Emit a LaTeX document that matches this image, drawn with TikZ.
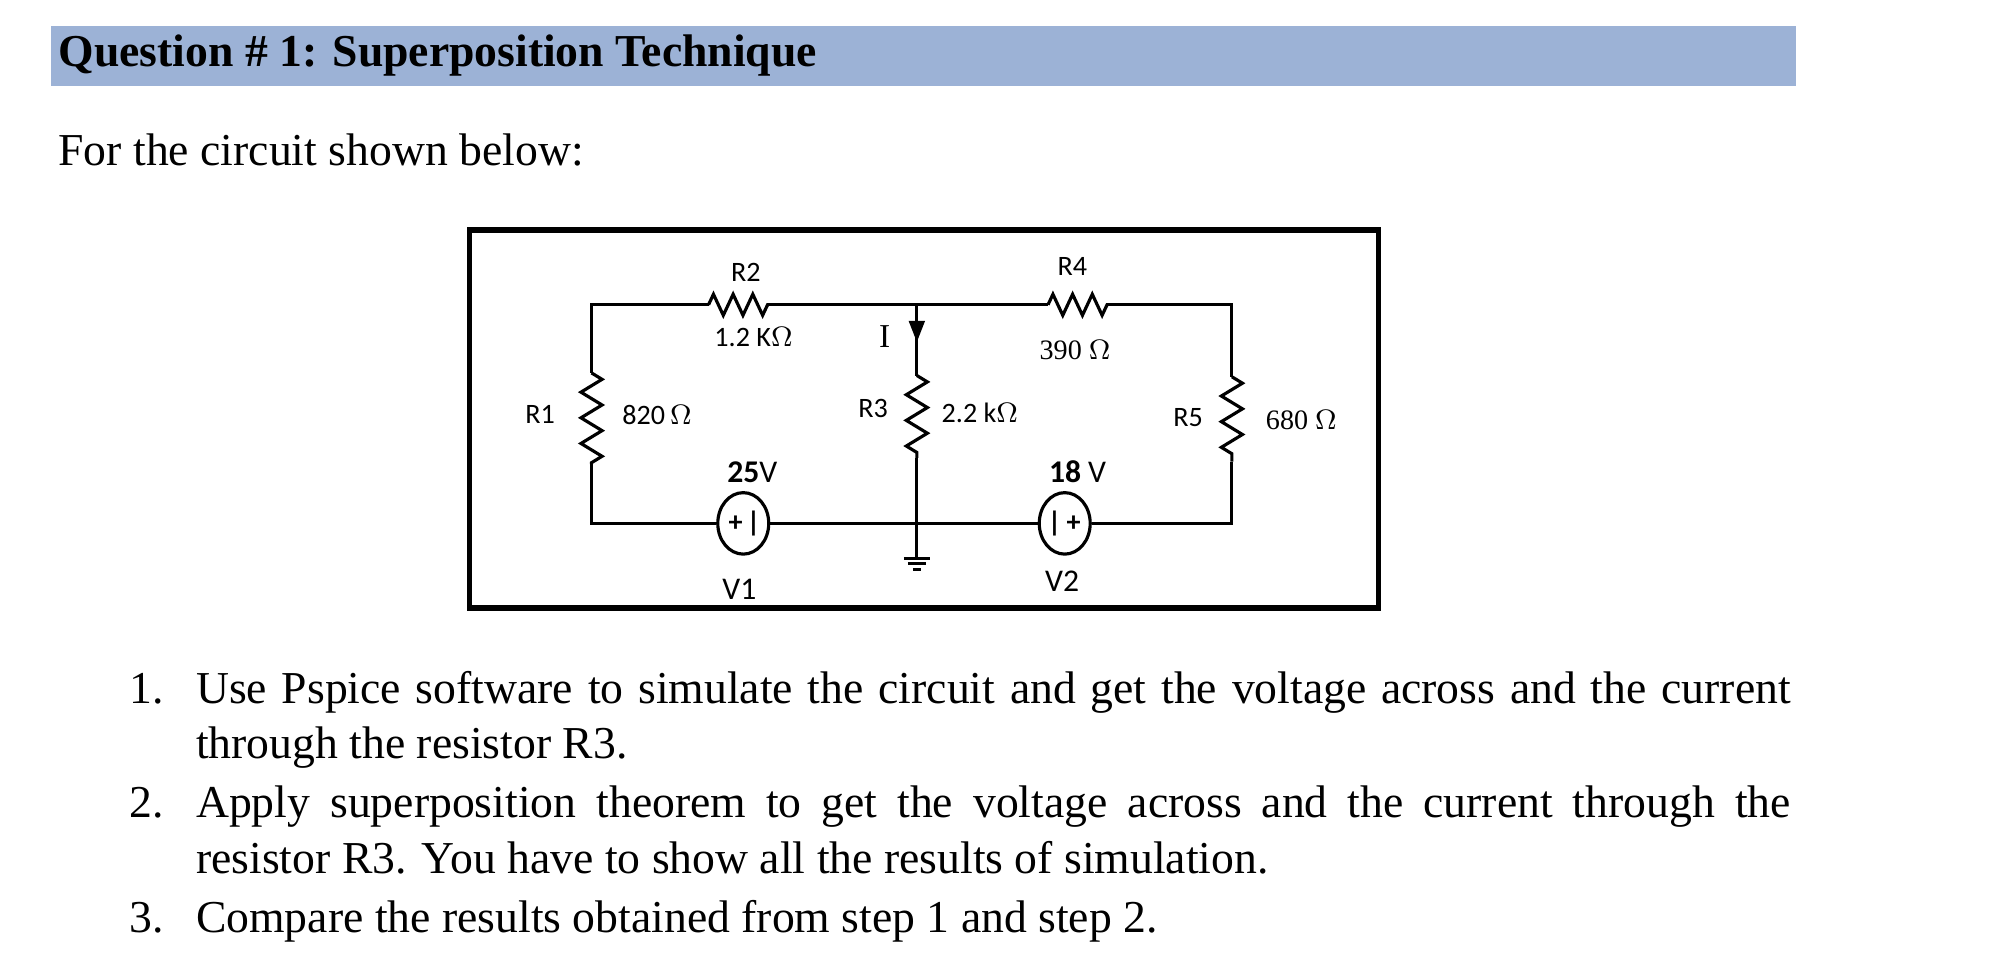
\documentclass[tikz,border=0pt]{standalone}
\usepackage{fontspec}
\setmainfont{Liberation Serif}
\newfontfamily\carl{Carlito}
\usetikzlibrary{decorations.pathmorphing,arrows.meta,shapes.geometric}
\begin{document}
\begin{tikzpicture}[x=0.01286cm,y=-0.01286cm,
  lbl/.style={font=\carl\fontsize{8}{9}\selectfont,inner sep=0pt},
  slbl/.style={font=\fontsize{8}{9}\selectfont,inner sep=0pt},
  wire/.style={line width=0.9pt},
  resh/.style={wire,decorate,decoration={zigzag,segment length=5.6pt,amplitude=3pt}},
  resv/.style={wire,decorate,decoration={zigzag,segment length=7.3pt,amplitude=3pt}},
  src/.style={draw,line width=0.9pt,ellipse,minimum width=14.5pt,minimum height=17.5pt,inner sep=0pt},
  sgn/.style={font=\carl\bfseries\fontsize{8}{9}\selectfont,inner sep=0pt},
  txt/.style={font=\fontsize{13}{15}\selectfont,inner sep=0pt,anchor=base west}]
\useasboundingbox (0,0) rectangle (1560,752.7);
\fill[fill={rgb,255:red,156;green,178;blue,214}] (40,20) rectangle (1397,67);
\node[txt,font=\bfseries\fontsize{13}{15}\selectfont] (title) at (45,52) {Question \# 1: Superposition Technique};
\node[txt] (intro) at (45,129) {For the circuit shown below:};
\draw[line width=1.6pt] (365,179) rectangle (1072,473);
\coordinate (tl) at (460,237); \coordinate (bl) at (460,407);
\coordinate (tm) at (713,237); \coordinate (bm) at (713,407);
\coordinate (tr) at (958,237); \coordinate (br) at (958,407);
\coordinate (r1a) at (460,290); \coordinate (r1b) at (460,361);
\coordinate (r2a) at (551,237); \coordinate (r2b) at (598,237);
\coordinate (r3a) at (713,292); \coordinate (r3b) at (713,356);
\coordinate (r4a) at (815,237); \coordinate (r4b) at (862,237);
\coordinate (r5a) at (958,293); \coordinate (r5b) at (958,359);
\coordinate (g) at (713,434);
\node[src] (v1) at (578,407) {};
\node[src] (v2) at (828,407) {};
\node[sgn] (p1) at (572,407.5) {+};
\node[sgn] (m1) at (586,407) {|};
\node[sgn] (m2) at (820,407) {|};
\node[sgn] (p2) at (835,407.5) {+};
\draw[wire] (r1a) -- (tl) -- (r2a);
\draw[wire] (r2b) -- (r4a);
\draw[wire] (r4b) -- (tr) -- (r5a);
\draw[wire] (r5b) -- (br) -- (v2);
\draw[wire] (v2) -- (v1);
\draw[wire] (v1) -- (bl) -- (r1b);
\draw[wire] (tm) -- (r3a);
\draw[wire] (r3b) -- (bm) -- (g);
\draw[wire] (703,434) -- (723,434);
\draw[wire] (706,438.5) -- (720,438.5);
\draw[wire] (710,443) -- (716,443);
\draw[resv] (r1a) -- (r1b);
\draw[resh] (r2a) -- (r2b);
\draw[resv] (r3a) -- (r3b);
\draw[resh] (r4a) -- (r4b);
\draw[resv] (r5a) -- (r5b);
\draw[-{Triangle[length=6pt,width=4.5pt]},line width=0.6pt] (713,240) -- (713,266);
\node[slbl,font=\fontsize{9.5}{10}\selectfont] (I) at (688,262) {I};
\node[lbl] at (580,212) {R2};
\node[lbl] at (586,262) {1.2 K$\Omega$};
\node[lbl] at (834,207) {R4};
\node[slbl] at (836,272) {390 $\Omega$};
\node[lbl] at (420,322) {R1};
\node[lbl] at (511,323) {820$\,\Omega$};
\node[lbl] at (679,318) {R3};
\node[lbl] at (762,321) {2.2 k$\Omega$};
\node[lbl] at (924,325) {R5};
\node[slbl] at (1012,327) {680 $\Omega$};
\node[lbl,font=\carl\bfseries\fontsize{9}{9}\selectfont] at (585,367) {25\textmd{V}};
\node[lbl,font=\carl\bfseries\fontsize{9}{9}\selectfont] at (838,367) {18 \textmd{V}};
\node[lbl,font=\carl\fontsize{9}{9}\selectfont] at (575,458) {V1};
\node[lbl,font=\carl\fontsize{9}{9}\selectfont] at (826,452) {V2};
\node[txt] (n1) at (100,547) {1.};
\node[txt] (l1) at (152,547) {\parbox[t]{15.95cm}{Use Pspice software to simulate the circuit and get the voltage across and the current\linebreak}};
\node[txt] (l1b) at (152,590) {through the resistor R3.};
\node[txt] (n2) at (100,636) {2.};
\node[txt] (l2) at (152,636) {\parbox[t]{15.95cm}{Apply superposition theorem to get the voltage across and the current through the\linebreak}};
\node[txt] (l2b) at (152,679) {resistor R3. You have to show all the results of simulation.};
\node[txt] (n3) at (100,725) {3.};
\node[txt] (l3) at (152,725) {Compare the results obtained from step 1 and step 2.};
\end{tikzpicture}
\end{document}
